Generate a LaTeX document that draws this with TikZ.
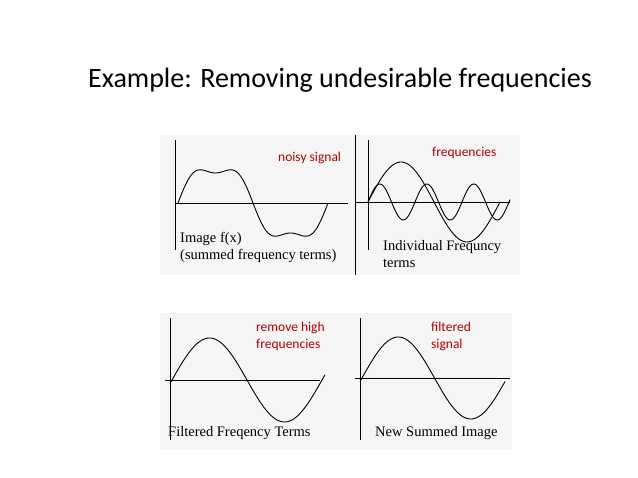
\documentclass[tikz,border=0pt]{standalone}
\usepackage{fontspec}
\setmainfont{Liberation Serif}
\newfontfamily\calfont{Carlito}
\begin{document}
\begin{tikzpicture}[x=1pt,y=-1pt,
  scan/.style={fill=gray!8,draw=none},
  ax/.style={line width=0.8pt},
  wave/.style={line width=0.9pt,smooth},
  lab/.style={font=\calfont\fontsize{13.5}{16.5}\selectfont,text=red!70!black,align=left,anchor=north west,inner sep=0},
  captext/.style={font=\fontsize{14.5}{17.5}\selectfont,align=left,anchor=north west,inner sep=0}]
\path[use as bounding box,fill=white] (0,0) rectangle (638,478);
\node[font=\calfont\fontsize{28}{32}\selectfont] (title) at (340,80) {Example: Removing undesirable frequencies};
% top scan
\fill[scan] (160,135) rectangle (520,275);
\draw[ax] (175,140) -- (175,250);
\draw[ax] (175,203) -- (348,203);
\draw[wave,domain=178:328,samples=120] plot (\x,{203-38*sin((\x-178)/150*360)-8*sin(3*(\x-178)/150*360)});
\node[captext] (c1) at (180,232) {Image f(x)\\(summed frequency terms)};
\draw[ax] (355,135) -- (355,275);
\draw[ax] (368,140) -- (368,250);
\draw[ax] (356,202) -- (510,202);
\draw[wave,domain=368:500,samples=100] plot (\x,{202-40*sin((\x-368)/132*360)});
\draw[wave,domain=368:510,samples=120] plot (\x,{202-18*sin((\x-368)/47*360)});
\node[captext] (c2) at (383,240) {Individual Frequncy\\terms};
\node[lab] (l1) at (278,152) {noisy signal};
\node[lab] (l2) at (432,147) {frequencies};
% bottom scan
\fill[scan] (160,313) rectangle (512,450);
\draw[ax] (170,318) -- (170,440);
\draw[ax] (165,380) -- (320,380);
\draw[wave,domain=170:325,samples=100] plot (\x,{380-42*sin((\x-172)/150*360)});
\node[captext] (c3) at (168,426) {Filtered Freqency Terms};
\draw[ax] (360,318) -- (360,440);
\draw[ax] (355,378) -- (510,378);
\draw[wave,domain=360:505,samples=100] plot (\x,{378-41*sin((\x-362)/145*360)});
\node[captext] (c4) at (375,426) {New Summed Image};
\node[lab] (l3) at (256,322) {remove high\\frequencies};
\node[lab] (l4) at (431,322) {filtered\\signal};
\end{tikzpicture}
\end{document}
